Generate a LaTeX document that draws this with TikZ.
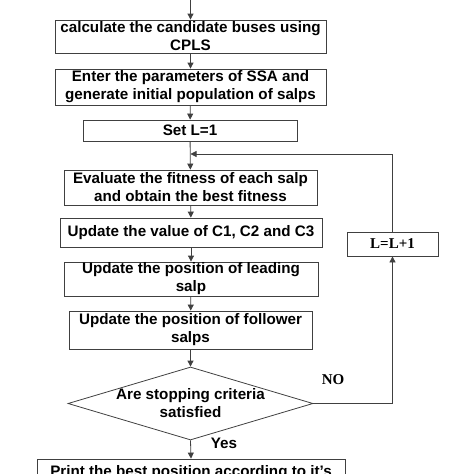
\documentclass[tikz,border=0pt]{standalone}
\usepackage{fontspec}
\setmainfont{Liberation Sans}
\newfontfamily\timesf{Liberation Serif}
\usetikzlibrary{shapes.geometric,arrows.meta}
\begin{document}
\begin{tikzpicture}[x=1pt,y=-1pt,
  box/.style={draw=black!75, line width=0.8pt, rectangle, inner sep=0pt, align=center,
    font=\fontsize{15.2}{18}\selectfont\bfseries},
  lbl/.style={inner sep=0pt, font=\fontsize{15.2}{18}\selectfont\bfseries},
  conn/.style={draw=black!75, line width=0.8pt},
  arr/.style={conn, -{Triangle[length=6pt,width=6pt]}}]
\useasboundingbox (0,0) rectangle (474,474);
\clip (0,0) rectangle (474,474);
\coordinate (top) at (190.5,0);
\node[box, minimum width=271pt, minimum height=33pt] (b1) at (190.5,36.5) {calculate the candidate buses using\\CPLS};
\node[box, minimum width=271pt, minimum height=36pt] (b2) at (190.5,87) {Enter the parameters of SSA and\\generate initial population of salps};
\node[box, minimum width=214pt, minimum height=21pt] (b3) at (190,130.5) {Set L=1};
\coordinate (j) at (190.5,154);
\node[box, minimum width=253pt, minimum height=35pt] (b4) at (190.5,187.5) {Evaluate the fitness of each salp\\and obtain the best fitness};
\node[box, minimum width=262pt, minimum height=29pt] (b5) at (191,232.5) {Update the value of C1, C2 and C3};
\node[box, minimum width=254pt, minimum height=34pt] (b6) at (191,279) {Update the position of leading\\salp};
\node[box, minimum width=243pt, minimum height=38pt] (b7) at (190.5,330) {Update the position of follower\\salps};
\node[draw=black!75, line width=0.8pt, diamond, inner sep=0pt, minimum width=245pt, minimum height=73pt] (d) at (190.5,403.5) {};
\node[lbl, align=center] (dt) at (d.center) {Are stopping criteria\\satisfied};
\node[box, minimum width=308pt, minimum height=42pt] (b8) at (191,480) {Print the best position according to it’s\\\phantom{x}};
\node[box, font=\fontsize{15}{18}\selectfont\timesf\bfseries, minimum width=91pt, minimum height=24pt] (inc) at (392.5,244) {L=L+1};
\coordinate (rc) at (392.5,403.5);
\coordinate (tc) at (392.5,154);
\node[lbl, font=\fontsize{15}{18}\selectfont\timesf\bfseries] (no) at (333,380) {NO};
\node[lbl] (yes) at (224,443) {Yes};
\draw[arr] (top) -- (b1.north);
\draw[arr] (b1) -- (b2);
\draw[arr] (b2) -- (b3);
\draw[arr] (b3) -- (b4);
\draw[arr] (b4) -- (b5);
\draw[arr] (b5) -- (b6);
\draw[arr] (b6) -- (b7);
\draw[arr] (b7) -- (d.north);
\draw[arr] (d.south) -- (b8.north);
\draw[arr] (d.east) -- (rc) -- (inc.south);
\draw[arr] (inc.north) -- (tc) -- (j);
\end{tikzpicture}
\end{document}
